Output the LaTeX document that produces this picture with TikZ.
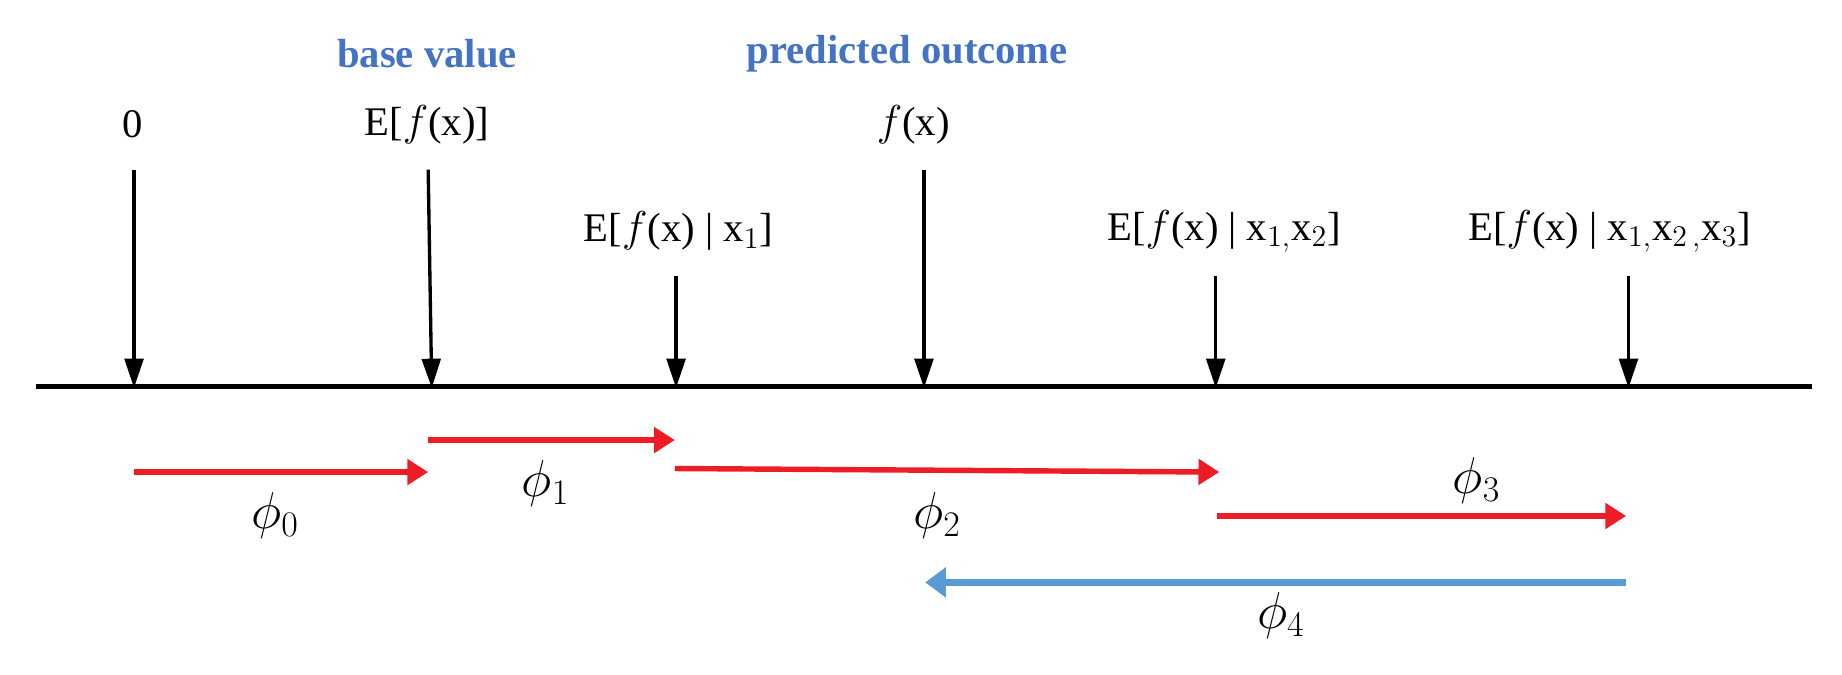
\documentclass[tikz,border=0pt]{standalone}
\usepackage{fontspec}
\setmainfont{Liberation Serif}
\usetikzlibrary{arrows.meta}
\definecolor{bluetxt}{HTML}{4472C4}
\definecolor{bluearr}{HTML}{5B9BD5}
\definecolor{redarr}{HTML}{EE1C25}
\tikzset{
  lbl/.style={font=\fontsize{19.5}{24}\selectfont},
  ttl/.style={font=\fontsize{19.5}{24}\selectfont\bfseries,text=bluetxt},
  phl/.style={font=\fontsize{23}{27}\selectfont},
  down/.style={line width=1.6pt,-{Triangle[length=14pt,width=9pt]}},
  redA/.style={draw=redarr,line width=2.6pt,-{Triangle[length=10pt,width=12pt]}},
  blueA/.style={draw=bluearr,line width=3pt,-{Triangle[length=10pt,width=14pt]}}
}
\begin{document}
\begin{tikzpicture}[x=0.02cm,y=-0.02cm]
\useasboundingbox (0,0) rectangle (1553,569);
\coordinate (axL) at (30,326); \coordinate (axR) at (1528,326);
\draw[line width=2.2pt] (axL) -- (axR);
\node[ttl] (bv) at (360,45) {base value};
\node[ttl] (po) at (765,45) {predicted outcome};
\node[lbl] (l0) at (112,105) {0};
\node[lbl] (l1) at (360,105) {E[$f$(x)]};
\node[lbl] (l2) at (770,105) {$f$(x)};
\node[lbl] (l3) at (572,195) {E[$f$(x) | x$_1$]};
\node[lbl] (l4) at (1032,195) {E[$f$(x) | x$_{1,}$x$_2$]};
\node[lbl] (l5) at (1357,195) {E[$f$(x) | x$_{1,}$x$_{2\,,}$x$_3$]};
\coordinate (t0) at (113,143); \coordinate (b0) at (113,327);
\coordinate (t1) at (361,143); \coordinate (b1) at (364,327);
\coordinate (t2) at (570,233); \coordinate (b2) at (570,327);
\coordinate (t3) at (779,143); \coordinate (b3) at (779,327);
\coordinate (t4) at (1025,233); \coordinate (b4) at (1025,327);
\coordinate (t5) at (1373,233); \coordinate (b5) at (1373,327);
\foreach \i in {0,...,5} \draw[down] (t\i) -- (b\i);
\coordinate (r0a) at (113,398); \coordinate (r0b) at (361,398);
\coordinate (r1a) at (361,371); \coordinate (r1b) at (569,371);
\coordinate (r2a) at (569,395); \coordinate (r2b) at (1028,398);
\coordinate (r3a) at (1026,435); \coordinate (r3b) at (1371,435);
\coordinate (bla) at (1371,491); \coordinate (blb) at (780,491);
\draw[redA] (r0a) -- (r0b);
\draw[redA] (r1a) -- (r1b);
\draw[redA] (r2a) -- (r2b);
\draw[redA] (r3a) -- (r3b);
\draw[blueA] (bla) -- (blb);
\node[phl] (p0) at (232,435) {$\phi_0$};
\node[phl] (p1) at (460,408) {$\phi_1$};
\node[phl] (p2) at (790,435) {$\phi_2$};
\node[phl] (p3) at (1245,405) {$\phi_3$};
\node[phl] (p4) at (1080,519) {$\phi_4$};
\end{tikzpicture}
\end{document}
